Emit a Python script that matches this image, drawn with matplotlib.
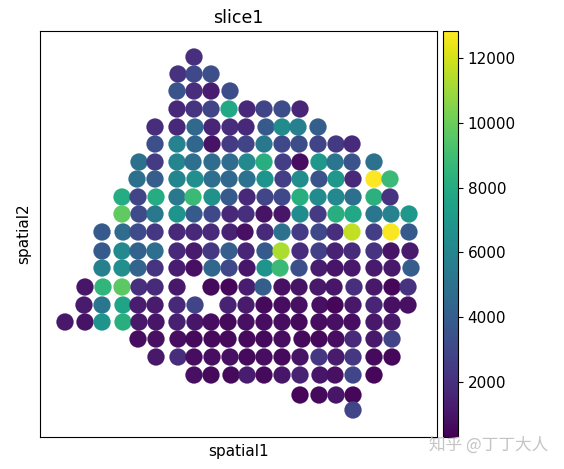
import numpy as np
import matplotlib
matplotlib.use('Agg')
import matplotlib.pyplot as plt

# spot rows
row_y = [57, 74, 91, 109, 127, 144, 162, 179, 197, 214, 232, 251, 268, 287, 305, 322, 339, 357, 375, 395, 410]
row_x = [
    [194],
    [178, 194, 211],
    [177, 194, 211, 230],
    [177, 194, 211, 229, 247, 264, 282, 300],
    [155, 177, 195, 212, 230, 246, 266, 282, 298, 318],
    [155, 177, 195, 212, 230, 246, 264, 282, 299, 318, 336, 352],
    [139, 155, 177, 193, 212, 230, 247, 264, 283, 300, 319, 335, 352, 374],
    [137, 155, 177, 195, 212, 229, 247, 265, 283, 300, 319, 336, 353, 374, 390],
    [122, 138, 156, 177, 193, 212, 229, 247, 265, 282, 300, 318, 336, 353, 374, 390],
    [122, 139, 155, 177, 194, 212, 230, 246, 264, 282, 300, 318, 336, 353, 374, 391, 409],
    [102, 123, 138, 155, 177, 194, 211, 230, 245, 265, 282, 300, 319, 335, 352, 374, 391, 409],
    [102, 122, 138, 155, 177, 194, 211, 229, 246, 265, 281, 300, 319, 335, 352, 374, 391, 410],
    [102, 122, 138, 155, 177, 194, 212, 229, 247, 265, 280, 299, 319, 335, 352, 374, 392, 411],
    [85, 103, 122, 139, 155, 177, 211, 229, 247, 263, 282, 299, 318, 334, 354, 374, 392, 408],
    [84, 102, 123, 138, 155, 177, 195, 228, 246, 264, 282, 299, 320, 335, 353, 374, 392, 408],
    [65, 85, 102, 123, 139, 156, 177, 195, 211, 228, 246, 264, 282, 299, 319, 335, 352, 374, 392],
    [138, 156, 178, 194, 212, 228, 247, 264, 282, 302, 319, 336, 353, 374, 392],
    [156, 178, 194, 212, 230, 247, 264, 282, 300, 319, 336, 353, 374, 392],
    [194, 211, 231, 247, 264, 282, 300, 320, 335, 353, 374],
    [300, 319, 336, 353],
    [353],
]
row_counts = [
    [2000],
    [2100, 3000, 3300],
    [3500, 1900, 1300, 3200],
    [1700, 2200, 2800, 7800, 1700, 2800, 3200, 1600],
    [1900, 1700, 4500, 1600, 1900, 1700, 3800, 6300, 5700, 4000],
    [3300, 5800, 4400, 900, 2500, 2800, 5300, 3000, 3200, 2800, 2400, 1800],
    [4900, 2500, 6000, 4800, 4700, 4700, 6200, 8200, 2600, 700, 7000, 5200, 3500, 5000],
    [4900, 4000, 6000, 6500, 4800, 4500, 5000, 6800, 2600, 6400, 3500, 7000, 1700, 12800, 8800],
    [8000, 2800, 8000, 5300, 8800, 6600, 3800, 1700, 2900, 3000, 8200, 6300, 6200, 4900, 8300, 2200],
    [9800, 3100, 5300, 6800, 3800, 3000, 1700, 2000, 900, 1000, 6300, 2500, 8200, 7800, 5200, 5800, 7000],
    [3800, 4700, 3100, 2300, 1700, 1700, 1800, 1500, 800, 1800, 5000, 2500, 3000, 2000, 11700, 2600, 12700, 3800],
    [3800, 6200, 4200, 4800, 1700, 1200, 2300, 4000, 1600, 3800, 11300, 1900, 2700, 1500, 1800, 2200, 900, 1200],
    [5700, 6500, 4300, 2200, 1300, 800, 4400, 3000, 1000, 6800, 8800, 3300, 1300, 1000, 1100, 1200, 1100, 4000],
    [1000, 8500, 9700, 2000, 1800, 1100, 600, 500, 1300, 4000, 800, 900, 1100, 1000, 2000, 1100, 500, 2100],
    [1200, 5200, 7600, 1300, 1200, 1700, 2800, 1500, 1200, 600, 700, 800, 800, 500, 1100, 1600, 800, 800],
    [1100, 900, 6800, 8200, 1100, 1000, 1400, 1000, 700, 600, 800, 700, 700, 600, 700, 800, 700, 1100, 1100],
    [700, 800, 700, 600, 600, 600, 600, 600, 700, 600, 600, 700, 1800, 1100, 2800],
    [1100, 1900, 700, 700, 800, 600, 700, 600, 900, 2300, 1200, 2300, 600, 500],
    [800, 600, 600, 1300, 600, 1000, 1500, 1000, 800, 2900, 500],
    [500, 600, 1000, 500],
    [2800],
]

spatial1 = np.concatenate(row_x)
spatial2 = np.concatenate([[y] * len(xs) for y, xs in zip(row_y, row_x)])
counts = np.concatenate(row_counts)

W, H = 564, 469
plt.rcParams['font.size'] = 11
fig = plt.figure(figsize=(W / 100, H / 100), dpi=100)
ax = fig.add_axes([40 / W, 1 - 437 / H, 397 / W, 406 / H])
cax = fig.add_axes([443 / W, 1 - 437 / H, 15 / W, 406 / H])

sc = ax.scatter(spatial1, spatial2, c=counts, cmap='viridis', vmin=300, vmax=12840,
                s=155, edgecolors='none')
ax.set_xlim(40, 437)
ax.set_ylim(437, 31)
ax.set_xticks([])
ax.set_yticks([])
ax.set_xlabel('spatial1', labelpad=5)
ax.set_ylabel('spatial2', labelpad=6)
ax.set_title('slice1', fontsize=12.5, pad=6)

fig.colorbar(sc, cax=cax, ticks=[2000, 4000, 6000, 8000, 10000, 12000])

fig.text(489 / W, 1 - 445 / H, '知乎 @丁丁大人', color='#c4c4c4', fontsize=12,
         ha='center', va='center', family=['Noto Sans CJK SC', 'DejaVu Sans'])

fig.savefig('out.png', dpi=100)
